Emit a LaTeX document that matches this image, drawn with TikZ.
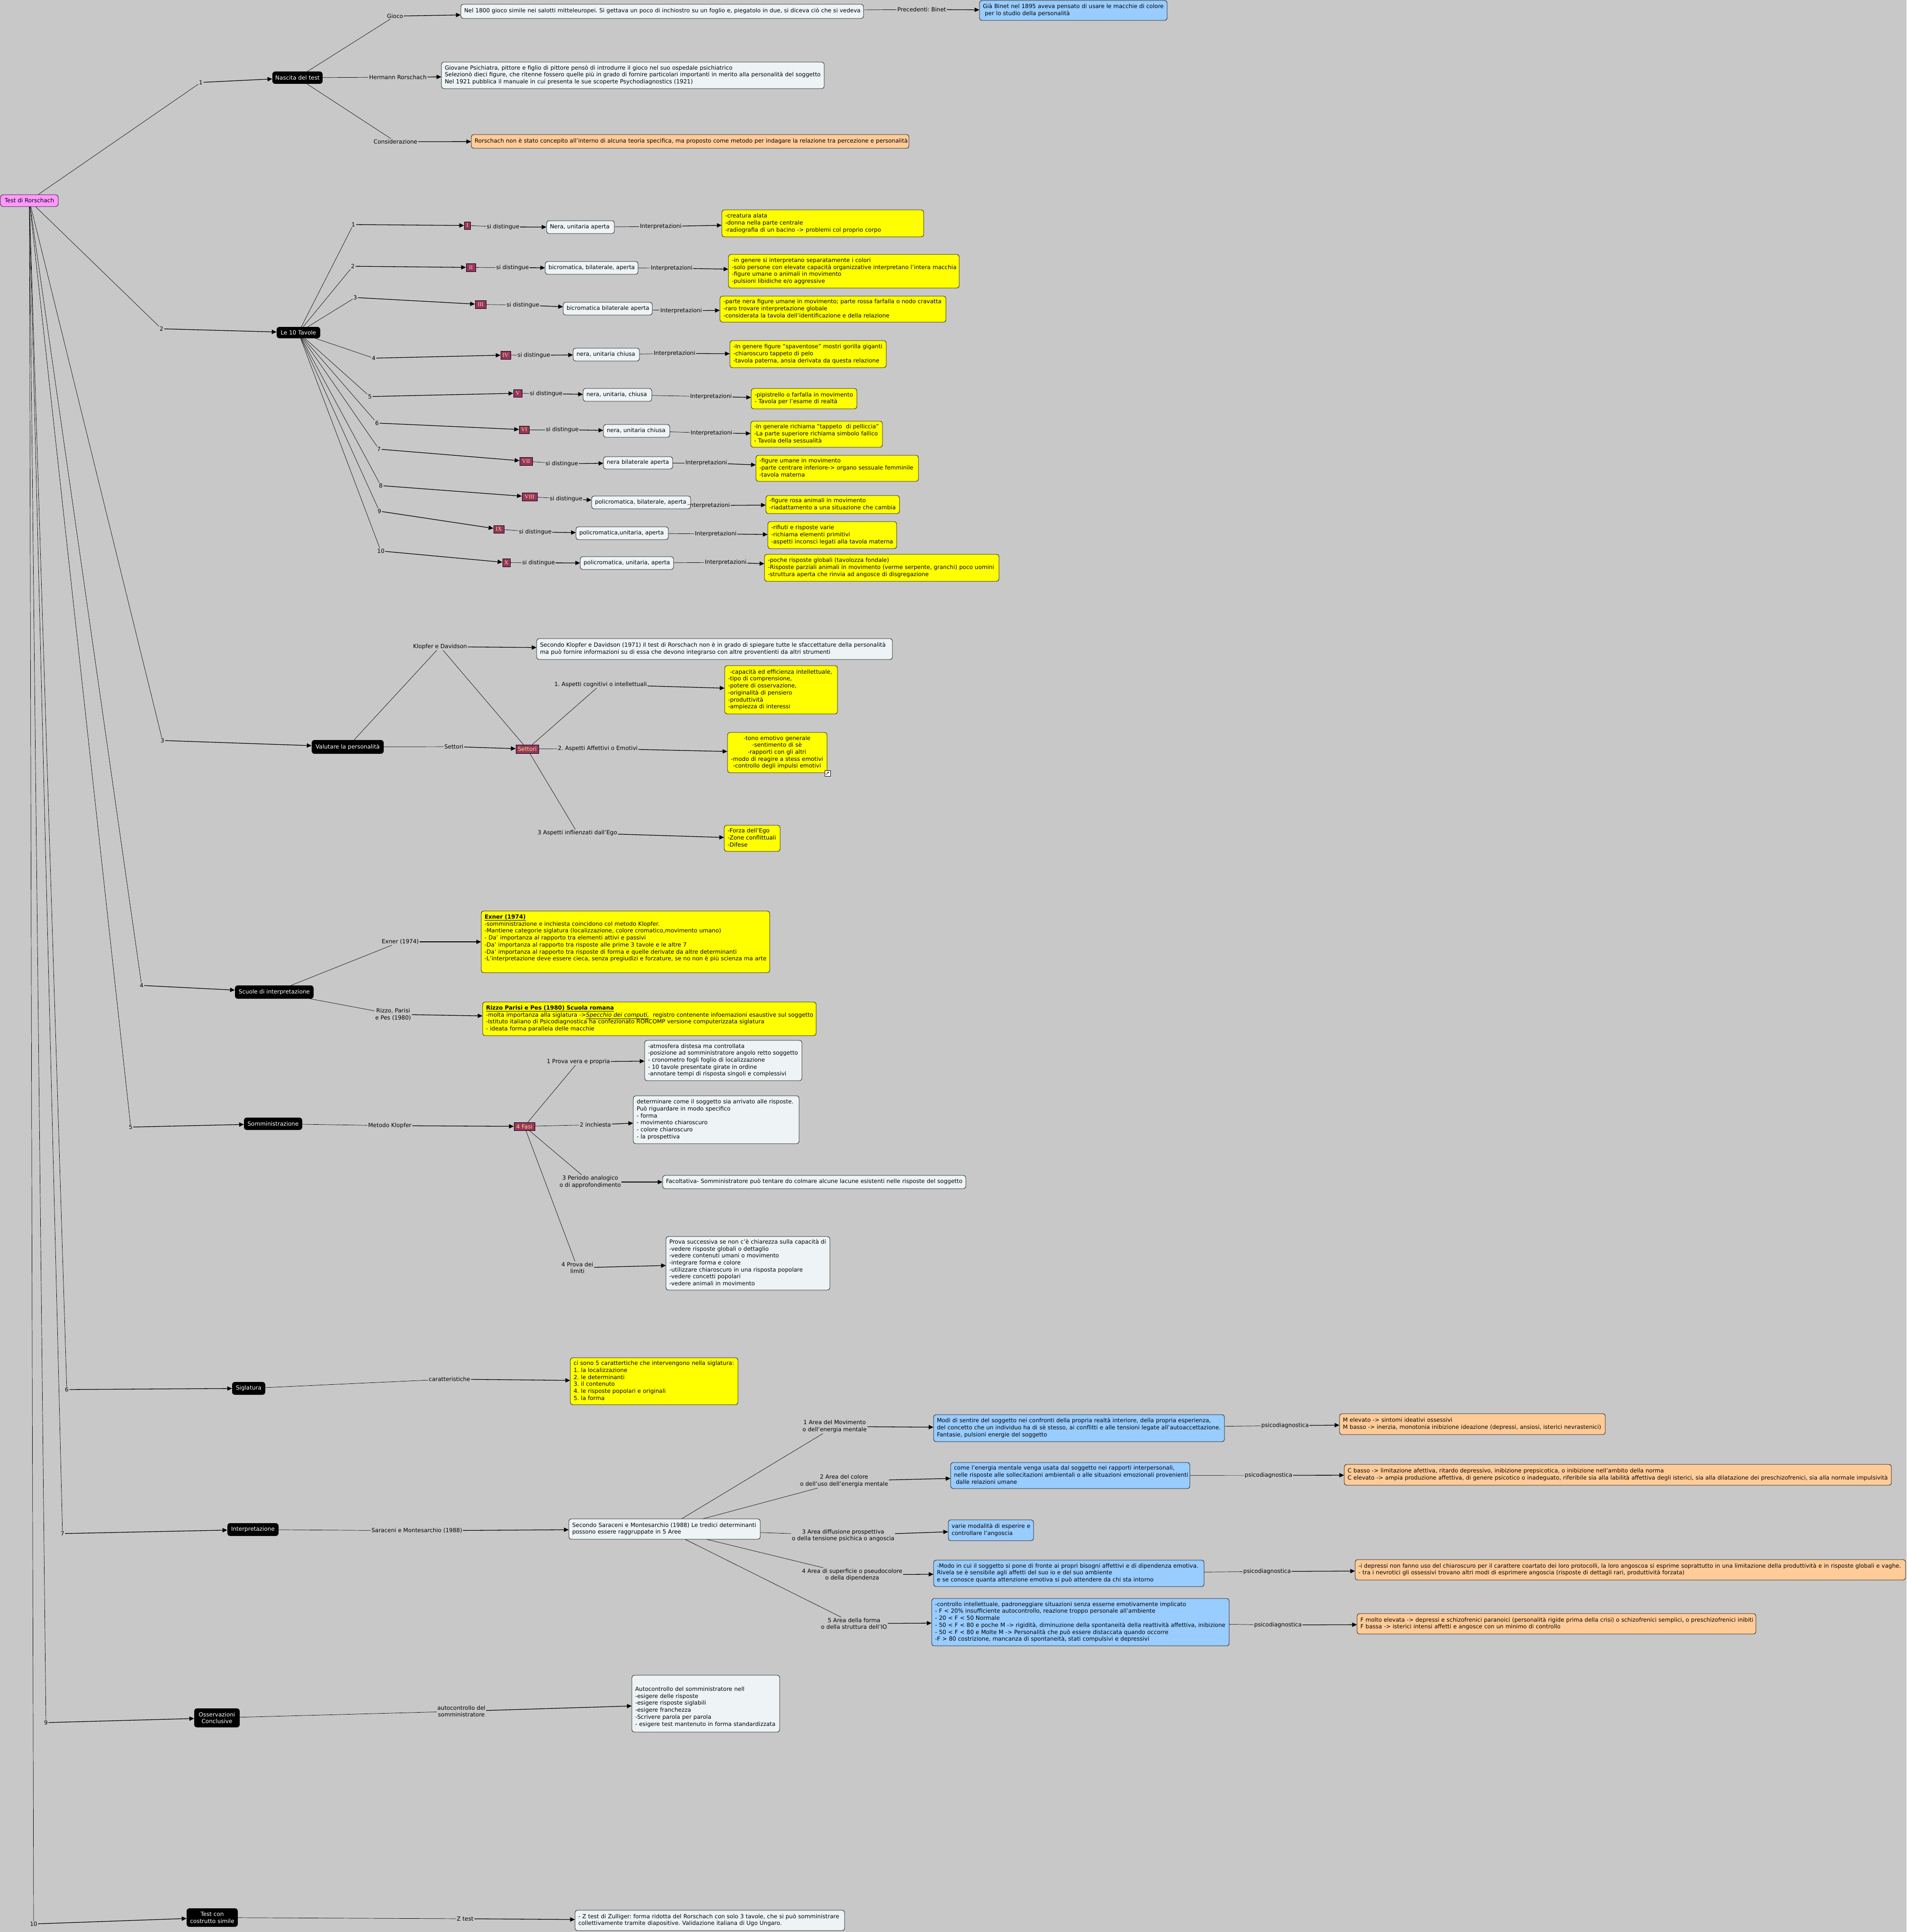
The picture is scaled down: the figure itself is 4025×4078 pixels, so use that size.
\documentclass[tikz,border=0pt]{standalone}
\usepackage{fontspec}
\setmainfont{DejaVu Sans}
\newfontfamily\romfont{Liberation Serif}
\usetikzlibrary{arrows.meta}
\frenchspacing
\definecolor{bgc}{RGB}{200,200,200}
\definecolor{wbg}{RGB}{238,244,246}
\definecolor{yel}{RGB}{255,255,0}
\definecolor{blu}{RGB}{153,204,255}
\definecolor{ora}{RGB}{255,204,153}
\definecolor{rpink}{RGB}{255,153,255}
\definecolor{maro}{RGB}{153,51,102}
\definecolor{gld}{RGB}{255,230,80}
\newcommand\fs{\fontsize{12}{14.7}\selectfont}
% text boxes: fixed size, text flush left, lines never re-broken
\newcommand\bx[7]{\node[#2,text width={#5-#3-14},minimum width={#5-#3},minimum height={#6-#4}] (#1) at ({(#3+#5)/2},{(#4+#6)/2}) {\begin{tabular}{@{}l@{}}#7\end{tabular}};}
\newcommand\bxc[7]{\node[#2,text width={#5-#3-14},minimum width={#5-#3},minimum height={#6-#4}] (#1) at ({(#3+#5)/2},{(#4+#6)/2}) {\begin{tabular}{@{}c@{}}#7\end{tabular}};}
% small boxes: fixed minimum size, centred text
\newcommand\bxs[7]{\node[#2,minimum width={#5-#3},minimum height={#6-#4}] (#1) at ({(#3+#5)/2},{(#4+#6)/2}) {#7};}
\begin{document}
\frenchspacing
\begin{tikzpicture}[x=1pt,y=-1pt,
 lbl/.style={font=\fs, inner sep=1.5pt, align=center, text=black},
 wbox/.style={draw=black, fill=wbg, rounded corners=5pt, align=left, font=\fs, inner xsep=7pt, inner ysep=2pt, line width=0.8pt},
 ybox/.style={wbox, fill=yel},
 bbox/.style={wbox, fill=blu},
 obox/.style={wbox, fill=ora},
 kbox/.style={fill=black, text=white, rounded corners=6pt, align=center, font=\fs, inner sep=2pt},
 pbox/.style={draw=black, fill=rpink, rounded corners=6pt, font=\fs, inner sep=2pt, line width=0.8pt},
 mbox/.style={draw=black, fill=maro, text=gld, font=\fs, inner sep=1pt, line width=0.8pt},
 rbox/.style={mbox, font=\romfont\fontsize{12}{14}\selectfont},
 ln/.style={line width=0.7pt},
 arr/.style={line width=1.3pt, -{Triangle[length=10pt,width=9pt]}}]
\fill[bgc] (0,0) rectangle (4025,4078);
\useasboundingbox (0,0) rectangle (4025,4078);

% ---------- linking labels ----------
\node[lbl] (r1) at (424,174) {1};
\node[lbl] (r2) at (341,694) {2};
\node[lbl] (r3) at (343,1563) {3};
\node[lbl] (r4) at (299,2080) {4};
\node[lbl] (r5) at (276,2379) {5};
\node[lbl] (r6) at (141,2933) {6};
\node[lbl] (r7) at (132,3237) {7};
\node[lbl] (r9) at (97,3636) {9};
\node[lbl] (r10) at (71,4061) {10};

\node[lbl] (giocol) at (834,34) {Gioco};
\node[lbl] (precl) at (1946,20) {Precedenti: Binet};
\node[lbl] (herml) at (840,163) {Hermann Rorschach};
\node[lbl] (consl) at (835,299) {Considerazione};

\node[lbl] (t1) at (746,474) {1};
\node[lbl] (t2) at (745,562) {2};
\node[lbl] (t3) at (750,628) {3};
\node[lbl] (t4) at (789,756) {4};
\node[lbl] (t5) at (781,837) {5};
\node[lbl] (t6) at (796,893) {6};
\node[lbl] (t7) at (800,948) {7};
\node[lbl] (t8) at (804,1025) {8};
\node[lbl] (t9) at (801,1079) {9};
\node[lbl] (t10) at (804,1163) {10};

\node[lbl] (s1) at (1062,479) {si distingue};
\node[lbl] (s2) at (1082,565) {si distingue};
\node[lbl] (s3) at (1104,644) {si distingue};
\node[lbl] (s4) at (1127,750) {si distingue};
\node[lbl] (s5) at (1153,831) {si distingue};
\node[lbl] (s6) at (1187,907) {si distingue};
\node[lbl] (s7) at (1186,979) {si distingue};
\node[lbl] (s8) at (1195,1053) {si distingue};
\node[lbl] (s9) at (1130,1123) {si distingue};
\node[lbl] (s10) at (1137,1188) {si distingue};

\node[lbl] (i1) at (1395,478) {Interpretazioni};
\node[lbl] (i2) at (1418,566) {Interpretazioni};
\node[lbl] (i3) at (1438,656) {Interpretazioni};
\node[lbl] (i4) at (1424,746) {Interpretazioni};
\node[lbl] (i5) at (1501,837) {Interpretazioni};
\node[lbl] (i6) at (1502,914) {Interpretazioni};
\node[lbl] (i7) at (1491,977) {Interpretazioni};
\node[lbl] (i8) at (1497,1067) {Interpretazioni};
\node[lbl] (i9) at (1511,1127) {Interpretazioni};
\node[lbl] (i10) at (1532,1187) {Interpretazioni};

\node[lbl] (kdl) at (929,1365) {Klopfer e Davidson};
\node[lbl] (settl) at (958,1576) {Settori};
\node[lbl] (asp1l) at (1268,1445) {1. Aspetti cognitivi o intellettuali};
\node[lbl] (asp2l) at (1262,1580) {2. Aspetti Affettivi o Emotivi};
\node[lbl] (asp3l) at (1219,1758) {3 Aspetti inflienzati dall'Ego};

\node[lbl] (exl) at (845,1988) {Exner (1974)};
\node[lbl] (rzl) at (830,2141) {Rizzo, Parisi\\e Pes (1980)};

\node[lbl] (mkl) at (823,2376) {Metodo Klopfer};
\node[lbl] (f1l) at (1221,2241) {1 Prova vera e propria};
\node[lbl] (f2l) at (1257,2374) {2 inchiesta};
\node[lbl] (f3l) at (1246,2495) {3 Periodo analogico\\o di approfondimento};
\node[lbl] (f4l) at (1219,2676) {4 Prova dei\\limiti};

\node[lbl] (carl) at (949,2911) {caratteristiche};

\node[lbl] (sml) at (880,3231) {Saraceni e Montesarchio (1988)};
\node[lbl] (a1l) at (1762,3011) {1 Area del Movimento\\o dell'energia mentale};
\node[lbl] (a2l) at (1782,3126) {2 Area del colore\\o dell'uso dell'energia mentale};
\node[lbl] (a3l) at (1780,3241) {3 Area diffusione prospettiva\\o della tensione psichica o angoscia};
\node[lbl] (a4l) at (1799,3324) {4 Area di superficie o pseudocolore\\o della dipendenza};
\node[lbl] (a5l) at (1803,3427) {5 Area della forma\\o della struttura dell'IO};
\node[lbl] (p1l) at (2713,3009) {psicodiagnostica};
\node[lbl] (p2l) at (2678,3114) {psicodiagnostica};
\node[lbl] (p4l) at (2675,3317) {psicodiagnostica};
\node[lbl] (p5l) at (2698,3430) {psicodiagnostica};

\node[lbl] (acl) at (974,3612) {autocontrollo del\\somministratore};
\node[lbl] (ztl) at (982,4050) {Z test};

% ---------- main nodes ----------
\bxs{root}{pbox}{1}{411}{123}{436}{Test di Rorschach}
\bxs{nascita}{kbox}{575}{151}{681}{177}{Nascita del test}
\bxs{tavole}{kbox}{584}{690}{676}{714}{Le 10 Tavole}
\bxs{valutare}{kbox}{658}{1562}{810}{1591}{Valutare la personalità}
\bxs{scuole}{kbox}{496}{2080}{662}{2108}{Scuole di interpretazione}
\bxs{somm}{kbox}{515}{2359}{638}{2385}{Somministrazione}
\bxs{sigl}{kbox}{490}{2917}{560}{2944}{Siglatura}
\bxs{interp}{kbox}{480}{3215}{588}{3242}{Interpretazione}
\bxs{osserv}{kbox}{410}{3606}{506}{3646}{Osservazioni\\Conclusive}
\bxs{testcs}{kbox}{394}{4028}{502}{4067}{Test con\\costrutto simile}

% Nascita
\bx{giocobox}{wbox}{973}{9}{1823}{39}{Nel 1800 gioco simile nei salotti mitteleuropei. Si gettava un poco di inchiostro su un foglio e, piegatolo in due, si diceva ciò che si vedeva}
\bx{binet}{bbox}{2068}{1}{2464}{43}{Già Binet nel 1895 aveva pensato di usare le macchie di colore\\\ per lo studio della personalità}
\bx{hermbox}{wbox}{932}{131}{1740}{187}{Giovane Psichiatra, pittore e figlio di pittore pensò di introdurre il gioco nel suo ospedale psichiatrico\\Selezionò dieci figure, che ritenne fossero quelle più in grado di fornire particolari importanti in merito alla personalità del soggetto\\Nel 1921 pubblica il manuale in cui presenta le sue scoperte Psychodiagnostics (1921)}
\bx{consbox}{obox}{995}{284}{1919}{313}{Rorschach non è stato concepito all'interno di alcuna teoria specifica, ma proposto come metodo per indagare la relazione tra percezione e personalità}

% Tavole
\bxs{m1}{rbox}{980}{468}{993}{484}{I}
\bxs{m2}{rbox}{984}{556}{1004}{573}{II}
\bxs{m3}{rbox}{1003}{634}{1026}{651}{III}
\bxs{m4}{rbox}{1057}{741}{1078}{758}{IV}
\bxs{m5}{rbox}{1084}{822}{1102}{838}{V}
\bxs{m6}{rbox}{1096}{899}{1117}{915}{VI}
\bxs{m7}{rbox}{1097}{965}{1124}{982}{VII}
\bxs{m8}{rbox}{1102}{1040}{1134}{1057}{VIII}
\bxs{m9}{rbox}{1042}{1109}{1064}{1125}{IX}
\bxs{m10}{rbox}{1061}{1179}{1077}{1196}{X}

\bx{d1}{wbox}{1154}{466}{1297}{493}{Nera, unitaria aperta}
\bx{d2}{wbox}{1151}{552}{1347}{579}{bicromatica, bilaterale, aperta}
\bx{d3}{wbox}{1189}{638}{1377}{665}{bicromatica bilaterale aperta}
\bx{d4}{wbox}{1210}{735}{1350}{762}{nera, unitaria chiusa}
\bx{d5}{wbox}{1231}{820}{1376}{847}{nera, unitaria, chiusa}
\bx{d6}{wbox}{1274}{896}{1414}{923}{nera, unitaria chiusa}
\bx{d7}{wbox}{1274}{964}{1420}{990}{nera bilaterale aperta}
\bx{d8}{wbox}{1249}{1047}{1458}{1074}{policromatica, bilaterale, aperta}
\bx{d9}{wbox}{1216}{1112}{1411}{1139}{policromatica,unitaria, aperta}
\bx{d10}{wbox}{1225}{1175}{1422}{1202}{policromatica, unitaria, aperta}

\bx{y1}{ybox}{1524}{443}{1950}{500}{-creatura alata\\-donna nella parte centrale\\-radiografia di un bacino -> problemi col proprio corpo}
\bx{y2}{ybox}{1538}{537}{2025}{608}{-in genere si interpretano separatamente i colori\\-solo persone con elevate capacità organizzative interpretano l'intera macchia\\-figure umane o animali in movimento\\-pulsioni libidiche e/o aggressive}
\bx{y3}{ybox}{1520}{625}{1997}{680}{-parte nera figure umane in movimento; parte rossa farfalla o nodo cravatta\\-raro trovare interpretazione globale\\-considerata la tavola dell'identificazione e della relazione}
\bx{y4}{ybox}{1541}{719}{1871}{776}{-In genere figure "spaventose" mostri gorilla giganti\\-chiaroscuro tappeto di pelo\\-tavola paterna, ansia derivata da questa relazione}
\bx{y5}{ybox}{1586}{820}{1809}{863}{-pipistrello o farfalla in movimento\\- Tavola per l'esame di realtà}
\bx{y6}{ybox}{1585}{889}{1863}{944}{-In generale richiama "tappeto\ \ di pelliccia"\\-La parte superiore richiama simbolo fallico\\- Tavola della sessualità}
\bx{y7}{ybox}{1596}{961}{1939}{1016}{-figure umane in movimento\\-parte centrare inferiore-> organo sessuale femminile\\-tavola materna}
\bx{y8}{ybox}{1617}{1046}{1899}{1084}{-figure rosa animali in movimento\\-riadattamento a una situazione che cambia}
\bx{y9}{ybox}{1621}{1101}{1893}{1158}{-rifiuti e risposte varie\\-richiama elementi primitivi\\-aspetti inconsci legati alla tavola materna}
\bx{y10}{ybox}{1614}{1170}{2109}{1227}{-poche risposte globali (tavolozza fondale)\\-Risposte parziali animali in movimento (verme serpente, granchi) poco uomini\\-struttura aperta che rinvia ad angosce di disgregazione}

% Valutare
\bx{kdbox}{wbox}{1133}{1348}{1884}{1392}{Secondo Klopfer e Davidson (1971) il test di Rorschach non è in grado di spiegare tutte le sfaccettature della personalità\\ma può fornire informazioni su di essa che devono integrarso con altre proventienti da altri strumenti}
\bxs{settori}{mbox}{1089}{1572}{1137}{1590}{Settori}
\bx{va1}{ybox}{1530}{1405}{1768}{1507}{\ -capacità ed efficienza intellettuale,\\-tipo di comprensione,\\-potere di osservazione,\\-originalità di pensiero\\-produttività\\-ampiezza di interessi}
\bxc{va2}{ybox}{1536}{1546}{1746}{1631}{-tono emotivo generale\\-sentimento di sè\\-rapporti con gli altri\\-modo di reagire a stess emotivi\\-controllo degli impulsi emotivi}
\bx{va3}{ybox}{1529}{1742}{1647}{1797}{-Forza dell'Ego\\-Zone conflittuali\\-Difese}
\draw[fill=white, line width=0.8pt] (1741,1626) rectangle (1753,1638);
\draw[line width=0.8pt, -{Triangle[length=3pt,width=3pt]}] (1744,1635) -- (1750,1629);

% Scuole
\bx{exbox}{ybox}{1016}{1923}{1625}{2053}{\underline{\textbf{Exner (1974)}}\\-somministrazione e inchiesta coincidono col metodo Klopfer.\\-Mantiene categorie siglatura (localizzazione, colore cromatico,movimento umano)\\- Da' importanza al rapporto tra elementi attivi e passivi\\-Da' importanza al rapporto tra risposte alle prime 3 tavole e le altre 7\\-Da' importanza al rapporto tra risposte di forma e quelle derivate da altre determinanti\\-L'interpretazione deve essere cieca, senza pregiudizi e forzature, se no non è più scienza ma arte\\\mbox{}}
\bx{rzbox}{ybox}{1019}{2115}{1723}{2186}{\underline{\textbf{Rizzo Parisi e Pes (1980) Scuola romana}}\\-molta importanza alla siglatura ->\underline{\textit{Specchio dei computi,}}\ \ registro contenente infoemazioni esaustive sul soggetto\\-Istituto italiano di Psicodiagnostica ha confezionato RORCOMP versione computerizzata siglatura\\- ideata forma parallela delle macchie}

% Somministrazione
\bxs{fasi}{mbox}{1085}{2369}{1129}{2386}{4 Fasi}
\bx{f1}{wbox}{1361}{2196}{1693}{2281}{-atmosfera distesa ma controllata\\-posizione ad somministratore angolo retto soggetto\\- cronometro fogli foglio di localizzazione\\- 10 tavole presentate girate in ordine\\-annotare tempi di risposta singoli e complessivi}
\bx{f2}{wbox}{1337}{2313}{1687}{2414}{determinare come il soggetto sia arrivato alle risposte.\\Può riguardare in modo specifico\\- forma\\- movimento chiaroscuro\\- colore chiaroscuro\\- la prospettiva}
\bx{f3}{wbox}{1399}{2481}{2039}{2509}{Facoltativa- Somministratore può tentare do colmare alcune lacune esistenti nelle risposte del soggetto}
\bx{f4}{wbox}{1406}{2610}{1752}{2723}{Prova successiva se non c'è chiarezza sulla capacità di\\-vedere risposte globali o dettaglio\\-vedere contenuti umani o movimento\\-integrare forma e colore\\-utilizzare chiaroscuro in una risposta popolare\\-vedere concetti popolari\\-vedere animali in movimento}

% Siglatura
\bx{sgbox}{ybox}{1204}{2866}{1558}{2965}{ci sono 5 carattertiche che intervengono nella siglatura:\\1. la localizzazione\\2. le determinanti\\3. il contenuto\\4. le risposte popolari e originali\\5. la forma}

% Interpretazione
\bx{smbox}{wbox}{1201}{3206}{1605}{3249}{Secondo Saraceni e Montesarchio (1988) Le tredici determinanti\\possono essere raggruppate in 5 Aree}
\bx{b1}{bbox}{1971}{2986}{2585}{3043}{Modi di sentire del soggetto nei confronti della propria realtà interiore, della propria esperienza,\\del concetto che un individuo ha di sè stesso, ai conflitti e alle tensioni legate all'autoaccettazione.\\Fantasie, pulsioni energie del soggetto}
\bx{b2}{bbox}{2007}{3087}{2512}{3142}{come l'energia mentale venga usata dal soggetto nei rapporti interpersonali,\\nelle risposte alle sollecitazioni ambientali o alle situazioni emozionali provenienti\\\ dalle relazioni umane}
\bx{b3}{bbox}{2002}{3208}{2182}{3252}{varie modalità di esperire e\\controllare l'angoscia}
\bx{b4}{bbox}{1971}{3293}{2542}{3349}{-Modo in cui il soggetto si pone di fronte ai propri bisogni affettivi e di dipendenza emotiva.\\Rivela se è sensibile agli affetti del suo io e del suo ambiente\\e se conosce quanta attenzione emotiva si può attendere da chi sta intorno}
\bx{b5}{bbox}{1967}{3374}{2595}{3474}{-controllo intellettuale, padroneggiare situazioni senza esserne emotivamente implicato\\- F < 20\% insufficiente autocontrollo, reazione troppo personale all'ambiente\\- 20 < F < 50 Normale\\- 50 < F < 80 e poche M -> rigidità, diminuzione della spontaneità della reattività affettiva, inibizione\\- 50 < F < 80 e Molte M -> Personalità che può essere distaccata quando occorre\\-F > 80 costrizione, mancanza di spontaneità, stati compulsivi e depressivi}
\bx{o1}{obox}{2828}{2984}{3389}{3028}{M elevato -> sintomi ideativi ossessivi\\M basso -> inerzia, monotonia inibizione ideazione (depressi, ansiosi, isterici nevrastenici)}
\bx{o2}{obox}{2838}{3091}{3993}{3135}{C basso -> limitazione afettiva, ritardo depressivo, inibizione prepsicotica, o inibizione nell'ambito della norma\\C elevato -> ampia produzione affettiva, di genere psicotico o inadeguato, riferibile sia alla labilità affettiva degli isterici, sia alla dilatazione dei preschizofrenici, sia alla normale impulsività}
\bx{o4}{obox}{2861}{3292}{4023}{3335}{-i depressi non fanno uso del chiaroscuro per il carattere coartato dei loro protocolli, la loro angoscoa si esprime soprattutto in una limitazione della produttività e in risposte globali e vaghe.\\- tra i nevrotici gli ossessivi trovano altri modi di esprimere angoscia (risposte di dettagli rari, produttività forzata)}
\bx{o5}{obox}{2865}{3406}{3707}{3449}{F molto elevata -> depressi e schizofrenici paranoici (personalità rigide prima della crisi) o schizofrenici semplici, o preschizofrenici inibiti\\F bassa -> isterici intensi affetti e angosce con un minimo di controllo}

% Osservazioni, Test
\bx{acbox}{wbox}{1334}{3536}{1646}{3656}{\mbox{}\\Autocontrollo del somministratore nell\\-esigere delle risposte\\-esigere risposte siglabili\\-esigere franchezza\\-Scrivere parola per parola\\- esigere test mantenuto in forma standardizzata}
\bx{ztbox}{wbox}{1214}{4032}{1783}{4075}{- Z test di Zulliger: forma ridotta del Rorschach con solo 3 tavole, che si può somministrare\\collettivamente tramite diapositive. Validazione italiana di Ugo Ungaro.}

% ---------- connectors ----------
\foreach \k in {1,2,3,4,5,6,7,9,10} {\draw[ln] (root) -- (r\k);}
\draw[arr] (r1) -- (nascita);
\draw[arr] (r2) -- (tavole);
\draw[arr] (r3) -- (valutare);
\draw[arr] (r4) -- (scuole);
\draw[arr] (r5) -- (somm);
\draw[arr] (r6) -- (sigl);
\draw[arr] (r7) -- (interp);
\draw[arr] (r9) -- (osserv);
\draw[arr] (r10) -- (testcs);

\draw[ln] (nascita) -- (giocol); \draw[arr] (giocol) -- (giocobox);
\draw[ln] (giocobox) -- (precl); \draw[arr] (precl) -- (binet);
\draw[ln] (nascita) -- (herml); \draw[arr] (herml) -- (hermbox);
\draw[ln] (nascita) -- (consl); \draw[arr] (consl) -- (consbox);

\foreach \k in {1,...,10} {
  \draw[ln] (tavole) -- (t\k);
  \draw[arr] (t\k) -- (m\k);
  \draw[ln] (m\k) -- (s\k);
  \draw[arr] (s\k) -- (d\k);
  \draw[ln] (d\k) -- (i\k);
  \draw[arr] (i\k) -- (y\k);
}

\draw[ln] (valutare) -- (kdl); \draw[arr] (kdl) -- (kdbox);
\draw[ln] (kdl) -- (settori);
\draw[ln] (valutare) -- (settl); \draw[arr] (settl) -- (settori);
\draw[ln] (settori) -- (asp1l); \draw[arr] (asp1l) -- (va1);
\draw[ln] (settori) -- (asp2l); \draw[arr] (asp2l) -- (va2);
\draw[ln] (settori) -- (asp3l); \draw[arr] (asp3l) -- (va3);

\draw[ln] (scuole) -- (exl); \draw[arr] (exl) -- (exbox);
\draw[ln] (scuole) -- (rzl); \draw[arr] (rzl) -- (rzbox);

\draw[ln] (somm) -- (mkl); \draw[arr] (mkl) -- (fasi);
\draw[ln] (fasi) -- (f1l); \draw[arr] (f1l) -- (f1);
\draw[ln] (fasi) -- (f2l); \draw[arr] (f2l) -- (f2);
\draw[ln] (fasi) -- (f3l); \draw[arr] (f3l) -- (f3);
\draw[ln] (fasi) -- (f4l); \draw[arr] (f4l) -- (f4);

\draw[ln] (sigl) -- (carl); \draw[arr] (carl) -- (sgbox);

\draw[ln] (interp) -- (sml); \draw[arr] (sml) -- (smbox);
\foreach \k in {1,...,5} {
  \draw[ln] (smbox) -- (a\k l);
  \draw[arr] (a\k l) -- (b\k);
}
\draw[ln] (b1) -- (p1l); \draw[arr] (p1l) -- (o1);
\draw[ln] (b2) -- (p2l); \draw[arr] (p2l) -- (o2);
\draw[ln] (b4) -- (p4l); \draw[arr] (p4l) -- (o4);
\draw[ln] (b5) -- (p5l); \draw[arr] (p5l) -- (o5);

\draw[ln] (osserv) -- (acl); \draw[arr] (acl) -- (acbox);
\draw[ln] (testcs) -- (ztl); \draw[arr] (ztl) -- (ztbox);
\end{tikzpicture}
\end{document}
